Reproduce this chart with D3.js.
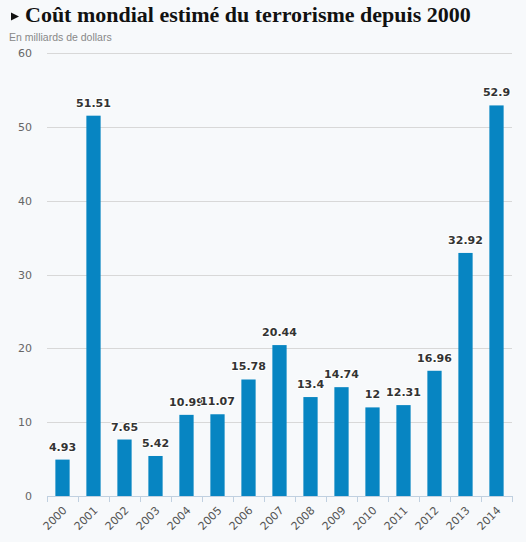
<!DOCTYPE html>
<html><head><meta charset="utf-8">
<script src="https://cdn.jsdelivr.net/npm/d3@7"></script>
<style>
html,body{margin:0;padding:0;background:#f7f9fb;}
svg{display:block;}
</style></head>
<body>
<svg id="c" width="526" height="542"></svg>
<script>
const years = ["2000","2001","2002","2003","2004","2005","2006","2007","2008","2009","2010","2011","2012","2013","2014"];
const costs = [4.93,51.51,7.65,5.42,10.99,11.07,15.78,20.44,13.4,14.74,12,12.31,16.96,32.92,52.9];
const yTicks = [0,10,20,30,40,50,60];
const titleText = "Coût mondial estimé du terrorisme depuis 2000";
const subtitleText = "En milliards de dollars";

const svg = d3.select("#c");
svg.append("rect").attr("width",526).attr("height",542).attr("fill","#f7f9fb");

const x = d3.scaleBand().domain(years).range([47,512]).paddingInner(0.54).paddingOuter(0.27);
const y = d3.scaleLinear().domain([0,60]).range([496,53]);

// title
svg.append("path").attr("d","M11,12.5 L19,16.5 L11,20.5 Z").attr("fill","#111");
svg.append("text").attr("x",25).attr("y",22)
  .attr("font-family","'Liberation Serif', serif").attr("font-weight","bold")
  .attr("font-size",22).attr("fill","#111").text(titleText);
svg.append("text").attr("x",9).attr("y",41)
  .attr("font-family","'Liberation Sans', Arial, sans-serif")
  .attr("font-size",10.5).attr("fill","#888").text(subtitleText);

// grid
const g = svg.append("g");
g.selectAll("line.grid").data(yTicks.filter(d=>d>0)).join("line")
  .attr("x1",47).attr("x2",512).attr("y1",d=>Math.round(y(d))+0.5).attr("y2",d=>Math.round(y(d))+0.5)
  .attr("stroke","#d8d8d8").attr("stroke-width",1);
g.selectAll("text.yt").data(yTicks).join("text")
  .attr("x",32).attr("y",d=>y(d)+4).attr("text-anchor","end")
  .attr("font-family","'DejaVu Sans', sans-serif").attr("font-size",11).attr("fill","#666")
  .text(d=>d);

// bars
g.selectAll("rect.bar").data(costs).join("rect")
  .attr("x",(d,i)=>x(years[i])).attr("width",x.bandwidth())
  .attr("y",d=>y(d)).attr("height",d=>y(0)-y(d)).attr("fill","#0785c2");

// x axis
const xa = svg.append("g").attr("transform","translate(0,496)");
xa.append("line").attr("x1",47).attr("x2",512).attr("y1",0.5).attr("y2",0.5).attr("stroke","#c0d0e0");
const bounds = d3.range(years.length+1).map(i=>47+i*(465/years.length));
xa.selectAll("line.tk").data(bounds).join("line")
  .attr("x1",d=>Math.round(d)+0.5).attr("x2",d=>Math.round(d)+0.5).attr("y1",0).attr("y2",6)
  .attr("stroke","#c0d0e0");
xa.selectAll("text.xl").data(years).join("text")
  .attr("text-anchor","end")
  .attr("transform",d=>`translate(${x(d)+x.bandwidth()/2+5},${15}) rotate(-45)`)
  .attr("font-family","'DejaVu Sans', sans-serif").attr("font-size",11).attr("fill","#555")
  .text(d=>d);

// value labels
g.selectAll("text.vl").data(costs).join("text")
  .attr("x",(d,i)=>x(years[i])+x.bandwidth()/2).attr("y",d=>y(d)-9)
  .attr("text-anchor","middle")
  .attr("font-family","'DejaVu Sans', sans-serif").attr("font-weight","bold").attr("font-size",11)
  .attr("fill","#333").attr("stroke","#fff").attr("stroke-width",2).attr("paint-order","stroke")
  .attr("stroke-linejoin","round")
  .text(d=>d);
</script>
</body></html>
